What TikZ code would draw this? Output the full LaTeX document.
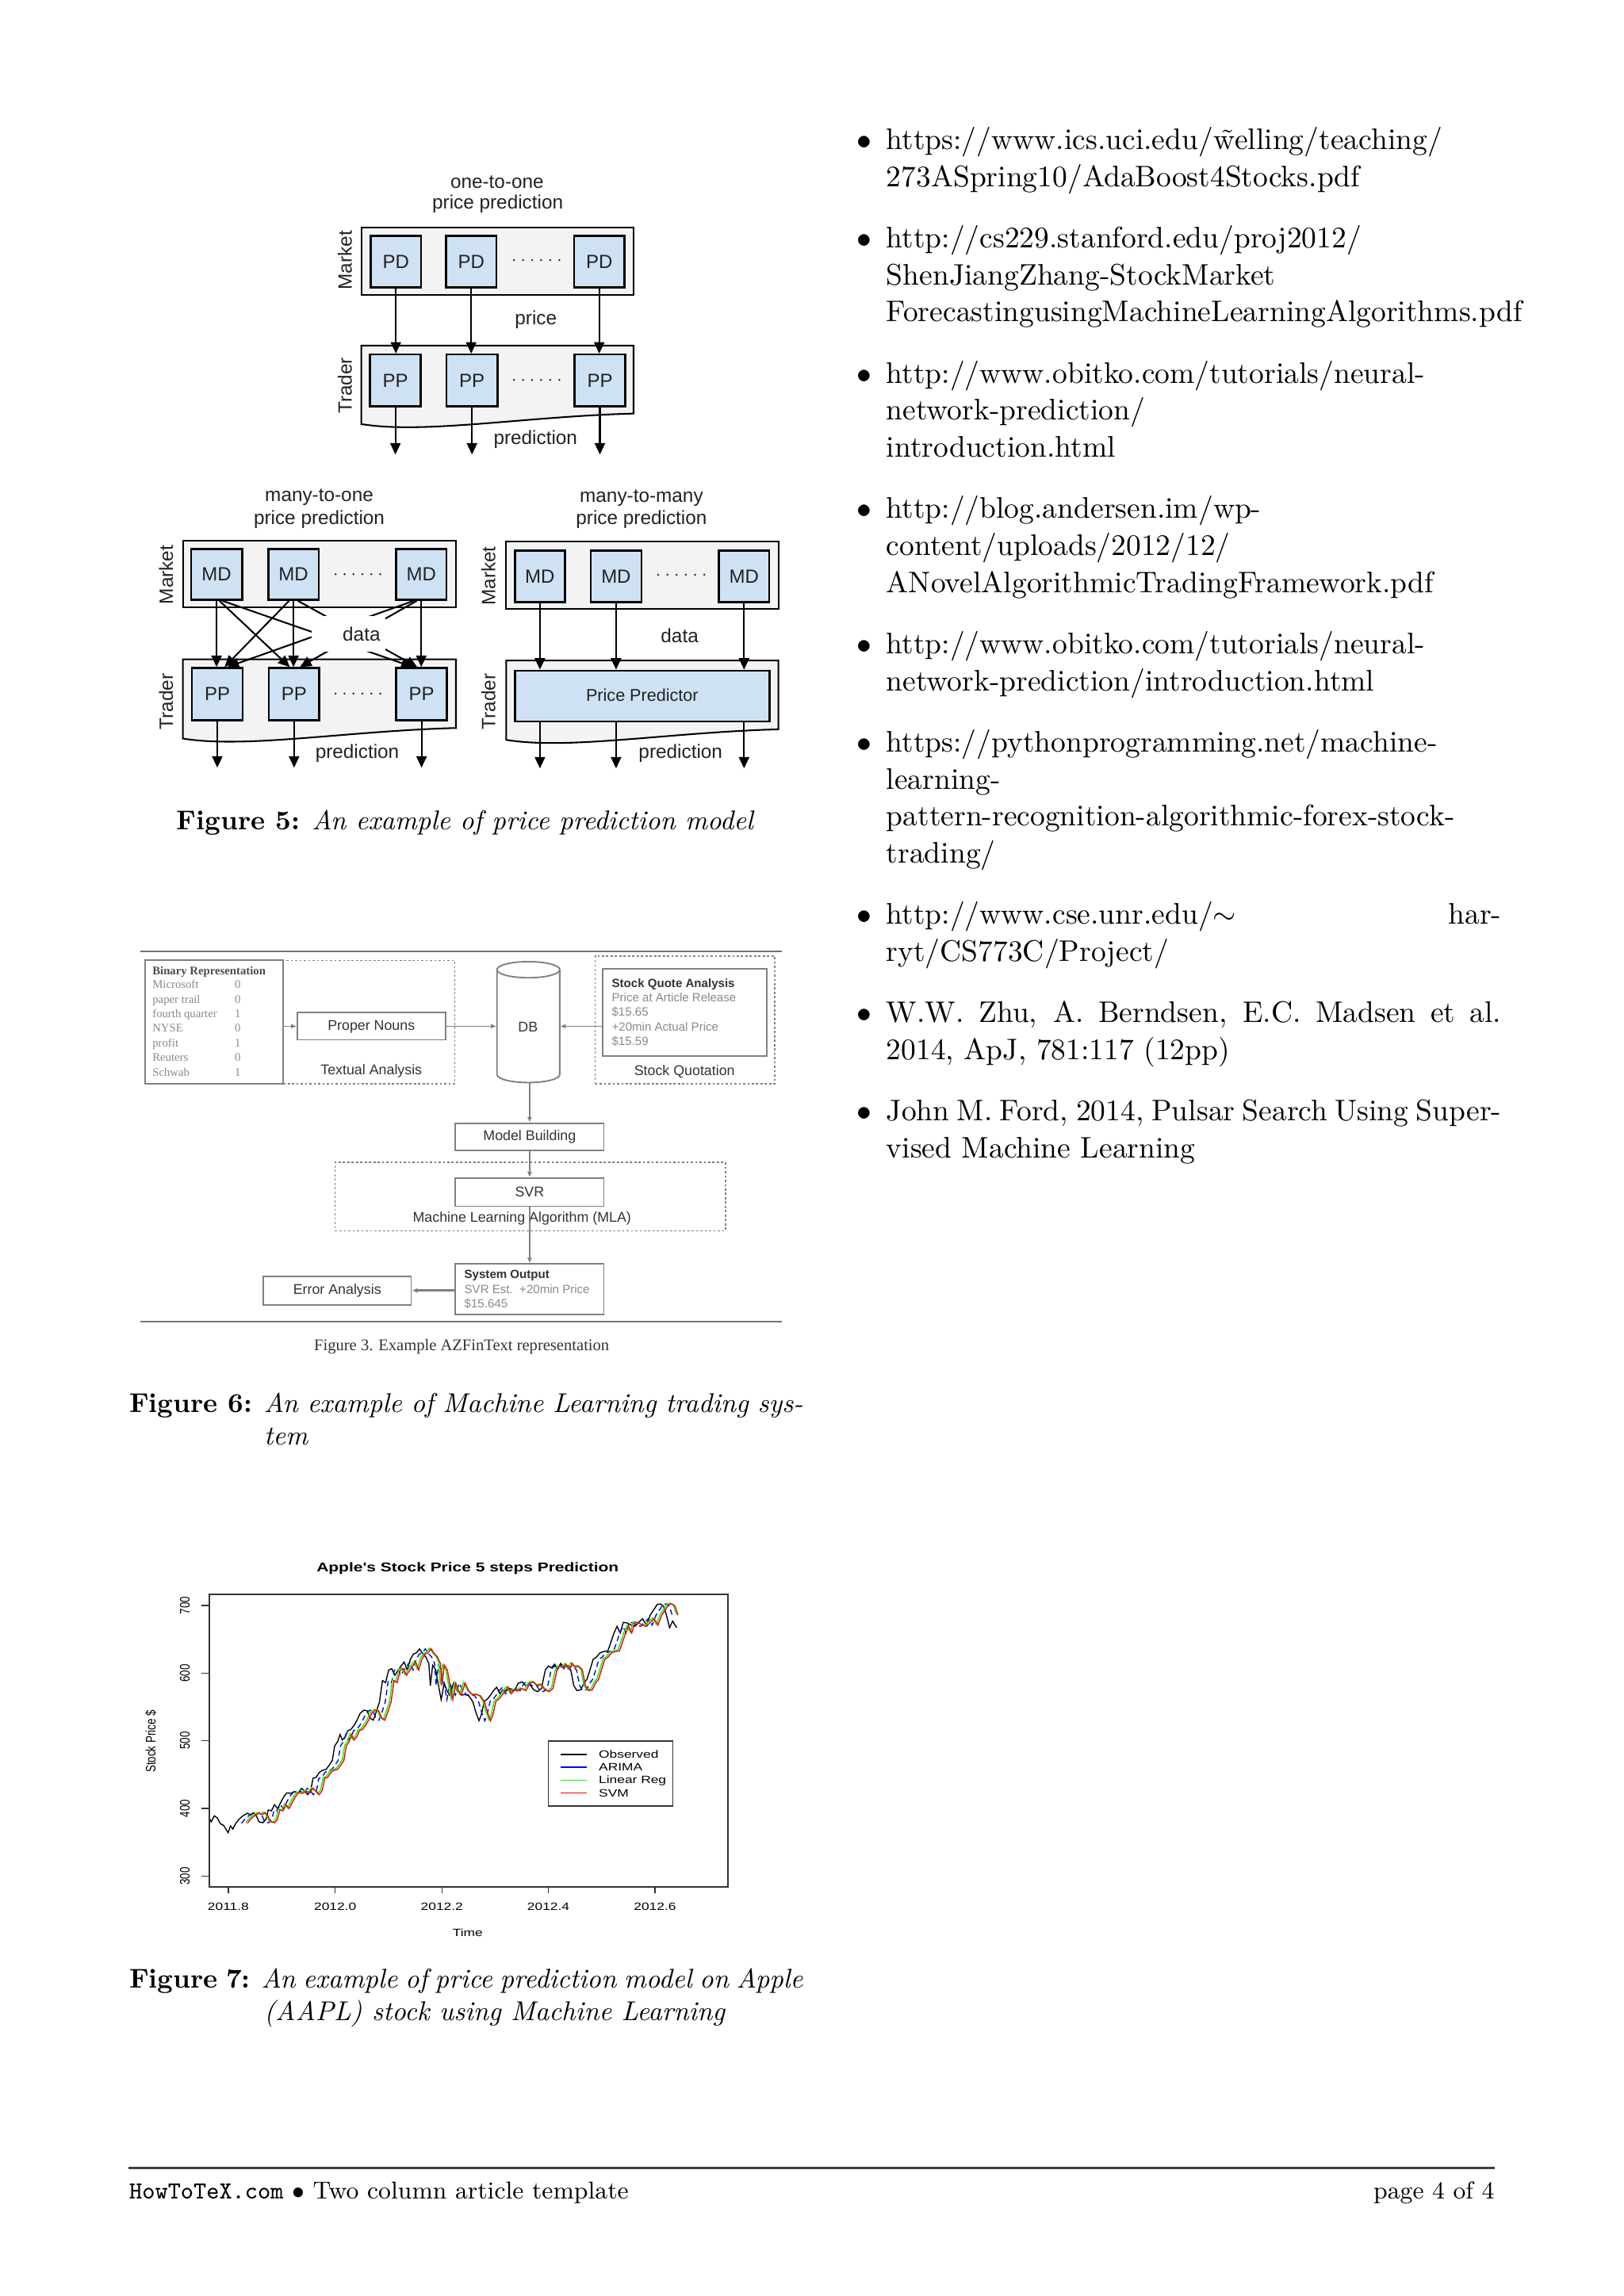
\documentclass[tikz,border=0pt]{standalone}
\usepackage{fontspec}
\usepackage{graphicx}
\newfontfamily\dsans{Liberation Sans}
\newfontfamily\dserif{Liberation Serif}
\usetikzlibrary{arrows.meta,fit,calc}
\definecolor{boxblue}{HTML}{CFE2F3}
\definecolor{panelgray}{HTML}{F3F3F3}
\definecolor{figink}{HTML}{222222}
\definecolor{azline}{HTML}{808080}
\definecolor{azink}{HTML}{333333}
\definecolor{azsoft}{HTML}{8A8A8A}
\definecolor{rgreen}{HTML}{00FF00}
\newcommand{\obshead}{(193,1030) -- (198,1045) -- (206,1022) -- (214,1030) -- (222,1052) -- (230,1058) -- (236,1072) -- (242,1086) -- (248,1060) -- (254,1072)}
\newcommand{\predline}{(262,1050) -- (270,1035) -- (280,1022) -- (292,1012) -- (300,1018) -- (308,1010) -- (316,1025) -- (322,1045) -- (332,1048) -- (340,1035) -- (346,1000) -- (354,1003) -- (362,980) -- (370,995) -- (378,972) -- (386,950) -- (394,935) -- (404,937) -- (414,930) -- (424,935) -- (432,918) -- (440,928) -- (448,942) -- (456,925) -- (462,880) -- (470,876) -- (478,858) -- (486,850) -- (496,846) -- (504,830) -- (512,812) -- (518,758) -- (526,740) -- (532,714) -- (538,735) -- (546,722) -- (552,700) -- (560,695) -- (568,680) -- (576,660) -- (584,634) -- (594,622) -- (602,624) -- (610,652) -- (618,660) -- (626,628) -- (634,592) -- (642,510) -- (650,518) -- (658,470) -- (666,465) -- (674,490) -- (682,472) -- (690,455) -- (698,440) -- (706,470) -- (714,430) -- (722,410) -- (730,405) -- (738,390) -- (746,408) -- (754,420) -- (762,445) -- (766,530) -- (772,452) -- (780,470) -- (786,520) -- (794,582) -- (802,520) -- (808,545) -- (816,565) -- (826,520) -- (836,550) -- (846,565) -- (856,563) -- (866,568) -- (876,590) -- (884,630) -- (892,662) -- (898,640) -- (906,588) -- (914,580) -- (922,565) -- (930,548) -- (938,535) -- (946,560) -- (954,545) -- (962,550) -- (972,540) -- (984,548) -- (994,520) -- (1004,515) -- (1014,530) -- (1024,525) -- (1034,545) -- (1044,552) -- (1054,540) -- (1064,470) -- (1072,455) -- (1080,462) -- (1088,448) -- (1096,468) -- (1104,445) -- (1112,460) -- (1120,455) -- (1130,470) -- (1138,530) -- (1146,548) -- (1156,545) -- (1164,520) -- (1172,505) -- (1180,468) -- (1188,430) -- (1196,422) -- (1206,405) -- (1216,400) -- (1226,398) -- (1234,365) -- (1242,330) -- (1250,305) -- (1258,330) -- (1266,290) -- (1276,292) -- (1286,300) -- (1296,305) -- (1306,290) -- (1316,276) -- (1326,300) -- (1336,262) -- (1346,240) -- (1354,222) -- (1362,220) -- (1370,228) -- (1378,262)}
\newcommand{\obstail}{(1386,310) -- (1394,285) -- (1400,300) -- (1405,310)}
\tikzset{
  fbox/.style={draw=black, line width=0.75pt, fill=boxblue, inner sep=0pt},
  ftxt/.style={font=\dsans\fontsize{7}{8}\selectfont, text=figink, inner sep=0pt},
  fpanel/.style={draw=black, line width=0.6pt, fill=panelgray, inner sep=0pt},
  flab/.style={font=\dsans\fontsize{7.1}{8.5}\selectfont, text=figink, inner sep=0pt},
  farr/.style={line width=0.6pt, draw=black, -{Triangle[length=4.2pt,width=3.8pt]}},
  fdot/.style={fill=figink, draw=none},
  azbox/.style={draw=azline, line width=0.55pt, inner sep=0pt, fill=white},
  azdash/.style={draw=azline, line width=0.45pt, dash pattern=on 0.8pt off 0.8pt, inner sep=0pt},
  azlab/.style={font=\dsans\fontsize{5.2}{6}\selectfont, text=azink, inner sep=0pt},
  azsm/.style={font=\dsans\fontsize{4.4}{5}\selectfont, text=azsoft, inner sep=0pt, anchor=base west},
  azsmb/.style={font=\dsans\bfseries\fontsize{4.4}{5}\selectfont, text=azink, inner sep=0pt, anchor=base west},
  azser/.style={font=\dserif\fontsize{4.3}{5}\selectfont, text=azsoft, inner sep=0pt, anchor=base west},
  azarr/.style={draw=azline, line width=0.5pt, -{Latex[length=2pt,width=1.8pt]}},
  rlab/.style={font=\dsans\fontsize{3.9}{4.7}\selectfont, inner sep=0pt},
  bodytext/.style={font=\fontsize{10.95}{13.6}\selectfont, inner sep=0pt, anchor=base west},
  figcap/.style={font=\fontsize{10}{12}\selectfont, inner sep=0pt, anchor=base west},
  foottext/.style={font=\fontsize{9}{11}\selectfont, inner sep=0pt},
}
\begin{document}
\begin{tikzpicture}[x=0.018936cm, y=-0.018936cm]
\fill[white] (0,0) rectangle (1109,1568.4);
\useasboundingbox (0,0) rectangle (1109,1568.4);

% ================= Figure 5: one-to-one =================
\node[flab] (t1a) at (339.5,124.2) {one-to-one};
\node[flab] (t1b) at (339.9,139.5) {price prediction};
\node[fpanel, fit={(246.8,155.2) (432.7,201.6)}] (mk1) {};
\draw[fpanel] (246.8,236.1) -- (432.7,236.1) -- (432.7,282.5) .. controls (358.3,284.5) and (289.6,296.7) .. (246.8,289.7) -- cycle;
\node[fbox, fit={(253.2,161) (287.5,196.2)}] (pd1) {};
\node[fbox, fit={(304.5,161) (339.1,196.2)}] (pd2) {};
\node[fbox, fit={(392,161) (426.5,196.2)}] (pd3) {};
\node[fbox, fit={(252.7,242.2) (287.4,277.6)}] (pp1) {};
\node[fbox, fit={(305,242.2) (339.7,277.6)}] (pp2) {};
\node[fbox, fit={(392.4,242.2) (427,277.6)}] (pp3) {};
\foreach \i in {1,2,3} {
  \node[ftxt] (pd\i t) at (pd\i) {PD};
  \node[ftxt] (pp\i t) at (pp\i) {PP};
}
\foreach \k in {0,...,5} {
  \fill[fdot] (351+6.2*\k,177.7) circle[radius=0.4pt];
  \fill[fdot] (351+6.2*\k,259.5) circle[radius=0.4pt];
}
\node[flab, rotate=90] (mkl1) at (235.6,177.8) {Market};
\node[flab, rotate=90] (trl1) at (235.6,263.5) {Trader};
\node[flab] (pr1) at (366,218.4) {price};
\node[flab] (pn1) at (365.7,300) {prediction};
\foreach \i in {1,2,3} {
  \draw[farr] (pd\i.south) -- (pd\i.south |- pp\i.north);
}
\coordinate (o1) at (0,310.5);
\foreach \i in {1,2,3} {
  \draw[farr] (pp\i.south) -- (pp\i.south |- o1);
}

% ================= Figure 5: many-to-one =================
\node[flab] (t2a) at (218,339.4) {many-to-one};
\node[flab] (t2b) at (218,354.6) {price prediction};
\node[fpanel, fit={(124.9,369.1) (311.4,415.1)}] (mk2) {};
\draw[fpanel] (124.9,450.4) -- (311.4,450.4) -- (311.4,497.3) .. controls (236.8,499.3) and (167.8,511.5) .. (124.9,504.5) -- cycle;
\node[fbox, fit={(130.5,375.1) (165.3,409.7)}] (md1) {};
\node[fbox, fit={(183.2,375.1) (217.7,409.7)}] (md2) {};
\node[fbox, fit={(270.4,375.1) (305,409.7)}] (md3) {};
\node[fbox, fit={(131,456.3) (165.8,491.9)}] (pq1) {};
\node[fbox, fit={(183.6,456.3) (218.1,491.9)}] (pq2) {};
\node[fbox, fit={(270.6,456.3) (305.2,491.9)}] (pq3) {};
\foreach \i in {1,2,3} {
  \node[ftxt] (md\i t) at (md\i) {MD};
  \node[ftxt] (pq\i t) at (pq\i) {PP};
}
\foreach \k in {0,...,5} {
  \fill[fdot] (229.2+6.1*\k,392.2) circle[radius=0.4pt];
  \fill[fdot] (229.2+6.1*\k,473.8) circle[radius=0.4pt];
}
\node[flab, rotate=90] (mkl2) at (113.4,392.6) {Market};
\node[flab, rotate=90] (trl2) at (113.4,479.2) {Trader};
\foreach \i in {1,2,3} {
  \draw[farr] (md\i.south) -- (md\i.south |- pq\i.north);
}
\draw[farr] ($(md1.south)+(2,0)$) -- ($(pq2.north)+(-3,0)$);
\draw[farr] ($(md1.south)+(4,0)$) -- ($(pq3.north)+(-6,0)$);
\draw[farr] ($(md2.south)+(-3,0)$) -- ($(pq1.north)+(5,0)$);
\draw[farr] ($(md2.south)+(3,0)$) -- ($(pq3.north)+(-3,0)$);
\draw[farr] ($(md3.south)+(-5,0)$) -- ($(pq1.north)+(7,0)$);
\draw[farr] ($(md3.south)+(-3,0)$) -- ($(pq2.north)+(4,0)$);
\fill[white] (213,421) rectangle (263,445);
\node[flab] (dt2) at (246.9,433.2) {data};
\node[flab] (pn2) at (244,514.4) {prediction};
\coordinate (o2) at (0,524.4);
\foreach \i in {1,2,3} {
  \draw[farr] (pq\i.south) -- (pq\i.south |- o2);
}

% ================= Figure 5: many-to-many =================
\node[flab] (t3a) at (438.1,340.2) {many-to-many};
\node[flab] (t3b) at (438.1,355) {price prediction};
\node[fpanel, fit={(345.7,370) (531.6,416)}] (mk3) {};
\draw[fpanel] (345.7,451.2) -- (531.6,451.2) -- (531.6,498.2) .. controls (457.2,500.2) and (388.5,512.4) .. (345.7,505.4) -- cycle;
\node[fbox, fit={(351.6,376) (385.9,411.2)}] (mm1) {};
\node[fbox, fit={(403.4,376) (438.1,411.2)}] (mm2) {};
\node[fbox, fit={(491,376) (525.3,411.2)}] (mm3) {};
\foreach \i in {1,2,3} {
  \node[ftxt] (mm\i t) at (mm\i) {MD};
}
\node[fbox, fit={(351.6,458.1) (525.6,492.8)}] (pred) {};
\node[ftxt, font=\dsans\fontsize{6.3}{7.5}\selectfont] (predt) at (438.6,475.1) {Price Predictor};
\foreach \k in {0,...,5} {
  \fill[fdot] (449.5+6.3*\k,392.6) circle[radius=0.4pt];
}
\node[flab, rotate=90] (mkl3) at (333.6,393.5) {Market};
\node[flab, rotate=90] (trl3) at (333.6,479.2) {Trader};
\node[flab] (dt3) at (464.2,434.1) {data};
\node[flab] (pn3) at (464.8,514.4) {prediction};
\coordinate (o3) at (0,524.9);
\foreach \i in {1,2,3} {
  \draw[farr] (mm\i.south) -- (mm\i.south |- pred.north);
  \draw[farr] (pred.south -| mm\i.south) -- (mm\i.south |- o3);
}

\node[figcap, anchor=base] (cap5) at (318,567) {\textbf{Figure 5:} \textit{An example of price prediction model}};

% ================= Figure 6: AZFinText =================
\draw[draw=black!55, line width=0.6pt] (96,650) -- (534,650);
\node[draw=azline, line width=0.7pt, inner sep=0pt, fit={(99,656) (193.5,740.4)}] (bin) {};
\node[azdash, fit={(193.5,656) (310.5,740.4)}] (txa) {};
\node[azser, font=\dserif\bfseries\fontsize{4.3}{5}\selectfont, text=black!70] (bint) at (103.8,665.6) {Binary Representation};
\foreach \w/\v [count=\i] in {Microsoft/0, paper trail/0, fourth quarter/1, NYSE/0, profit/1, Reuters/0, Schwab/1} {
  \node[azser] (bw\i) at (103.8,665.1+10*\i) {\w};
  \node[azser] (bv\i) at (160,665.1+10*\i) {\v};
}
\node[azbox, fit={(203.1,691.7) (304.2,710.3)}] (pn) {};
\node[azlab] (pnt) at (253.6,701.4) {Proper Nouns};
\node[azlab] (txl) at (253.6,731.4) {Textual Analysis};
\filldraw[fill=white, draw=azline, line width=0.55pt] (339.4,662.4) -- (339.4,734) arc[start angle=180, end angle=0, x radius=21.45, y radius=5.5] -- (382.3,662.4);
\draw[draw=azline, line width=0.55pt, fill=white] (360.85,662.4) ellipse[x radius=21.45, y radius=5.5];
\node[inner sep=0pt, fit={(339.4,662.4) (382.3,739.5)}] (db) {};
\node[azlab] (dbt) at (360.6,701.8) {DB};
\node[azdash, fit={(406.5,653.1) (529.2,740.4)}] (sqd) {};
\node[azbox, fit={(411.5,661.9) (523.8,721.6)}] (sqa) {};
\node[azsmb] (sq1) at (417.5,674.4) {Stock Quote Analysis};
\node[azsm] (sq2) at (417.5,684.3) {Price at Article Release};
\node[azsm] (sq3) at (417.5,694.2) {\$15.65};
\node[azsm] (sq4) at (417.5,704.5) {+20min Actual Price};
\node[azsm] (sq5) at (417.5,714.1) {\$15.59};
\node[azlab] (sql) at (467.5,731.9) {Stock Quotation};
\draw[azarr] (bin.east |- pn.west) -- (pn.west);
\draw[azarr] (pn.east) -- (db.west |- pn.east);
\draw[azarr] (sqa.west |- pn.east) -- (db.east |- pn.east);

\node[azbox, fit={(311,767.2) (412.4,785.7)}] (mb) {};
\node[azlab] (mbt) at (361.7,776.8) {Model Building};
\node[azdash, fit={(228.9,793.9) (495.4,840.8)}] (mla) {};
\node[azbox, fit={(311,804.7) (412.4,824)}] (svr) {};
\node[azlab] (svrt) at (361.7,814.4) {SVR};
\node[azlab] (mlal) at (356.5,832.1) {Machine Learning Algorithm (MLA)};
\node[azbox, fit={(311,863.4) (412.4,898)}] (so) {};
\node[azsmb] (so1) at (316.8,873.5) {System Output};
\node[azsm] (so2) at (316.8,883.8) {SVR Est.\ \ +20min Price};
\node[azsm] (so3) at (316.8,893.3) {\$15.645};
\node[azbox, fit={(179.9,871.8) (280.8,891.2)}] (ea) {};
\node[azlab] (eat) at (230.3,881.6) {Error Analysis};
\draw[azarr] (mb.north |- db.south) -- (mb.north);
\draw[azarr] (mb.south) -- (svr.north);
\draw[azarr] (svr.south) -- (so.north);
\draw[azarr, line width=0.9pt] (so.west |- ea.east) -- (ea.east);
\draw[draw=black!55, line width=0.7pt] (96,902.9) -- (534,902.9);
\node[font=\dserif\fontsize{6}{7}\selectfont, text=azink, inner sep=0pt] (azcap) at (315.3,919.7) {Figure 3. Example AZFinText representation};

\node[figcap] (cap6a) at (88,965) {\makebox[8.711cm][s]{\textbf{Figure 6:} \textit{An example of Machine Learning trading sys-}}};
\node[figcap] (cap6b) at (180,987) {\textit{tem}};

% ================= Figure 7: chart =================
\node[font=\dsans\bfseries\fontsize{4.7}{5.6}\selectfont, inner sep=0pt] (ctitle) at (319.4,1071.2) {\scalebox{1.3}[1]{Apple's Stock Price 5 steps Prediction}};
\begin{scope}[shift={(1.7433cm,-19.9946cm)}, x=0.0049946cm, y=-0.003418cm]
  \draw[black, line width=0.4pt] \obshead -- \predline -- \obstail;
  \draw[blue, line width=0.4pt, dash pattern=on 2pt off 1.3pt, xshift=0.075cm] \predline;
  \draw[rgreen, line width=0.4pt, xshift=0.13cm, yshift=0.01cm] \predline;
  \draw[red, line width=0.4pt, xshift=0.15cm] \predline;
\end{scope}
\draw[line width=0.5pt, draw=black!80] (143,1089) rectangle (497,1289);
\foreach \yy/\lab [count=\i] in {1096.7/700,1142.9/600,1189.1/500,1235.3/400,1281.6/300} {
  \draw[line width=0.4pt, draw=black!80] (143,\yy) -- (137.4,\yy);
  \node[rlab, rotate=90] (ytk\i) at (126.3,\yy) {\scalebox{1}[1.3]{\lab}};
}
\foreach \xx/\lab [count=\i] in {155.9/2011.8,228.9/2012.0,301.8/2012.2,374.5/2012.4,447.3/2012.6} {
  \draw[line width=0.4pt, draw=black!80] (\xx,1289) -- (\xx,1293.5);
  \node[rlab] (xtk\i) at (\xx,1302.3) {\scalebox{1.3}[1]{\lab}};
}
\node[rlab] (xlab) at (319.4,1320.3) {\scalebox{1.3}[1]{Time}};
\node[rlab, rotate=90] (ylab) at (103.1,1189.5) {\scalebox{1}[1.3]{Stock Price \$}};
\node[draw=black!80, line width=0.5pt, inner sep=0pt, fit={(374.5,1189.1) (459.5,1233.7)}] (leg) {};
\foreach \yy/\col/\lab [count=\i] in {1198.5/black/Observed,1207.2/blue/ARIMA,1216.2/rgreen/Linear Reg,1224.8/red/SVM} {
  \draw[\col, line width=0.4pt] (383,\yy) -- (400.7,\yy);
  \node[rlab, anchor=west] (lg\i) at (408.6,\yy) {\scalebox{1.3}[1]{\lab}};
}

\node[figcap] (cap7a) at (88,1358) {\makebox[8.711cm][s]{\textbf{Figure 7:} \textit{An example of price prediction model on Apple}}};
\node[figcap] (cap7b) at (180,1380) {\textit{(AAPL) stock using Machine Learning}};

% ================= Right column =================
\node[bodytext, anchor=base] (bu1) at (590,102) {$\bullet$};
\node[bodytext] (r1a) at (605,102) {https://www.ics.uci.edu/\~{w}elling/teaching/};
\node[bodytext] (r1b) at (605,127.3) {273ASpring10/AdaBoost4Stocks.pdf};
\node[bodytext, anchor=base] (bu2) at (590,169.15) {$\bullet$};
\node[bodytext] (r2a) at (605,169.15) {http://cs229.stanford.edu/proj2012/};
\node[bodytext] (r2b) at (605,194.45) {ShenJiangZhang-StockMarket};
\node[bodytext] (r2c) at (605,219.75) {ForecastingusingMachineLearningAlgorithms.pdf};
\node[bodytext, anchor=base] (bu3) at (590,261.6) {$\bullet$};
\node[bodytext] (r3a) at (605,261.6) {http://www.obitko.com/tutorials/neural-};
\node[bodytext] (r3b) at (605,286.9) {network-prediction/};
\node[bodytext] (r3c) at (605,312.2) {introduction.html};
\node[bodytext, anchor=base] (bu4) at (590,354.05) {$\bullet$};
\node[bodytext] (r4a) at (605,354.05) {http://blog.andersen.im/wp-};
\node[bodytext] (r4b) at (605,379.35) {content/uploads/2012/12/};
\node[bodytext] (r4c) at (605,404.65) {ANovelAlgorithmicTradingFramework.pdf};
\node[bodytext, anchor=base] (bu5) at (590,446.5) {$\bullet$};
\node[bodytext] (r5a) at (605,446.5) {http://www.obitko.com/tutorials/neural-};
\node[bodytext] (r5b) at (605,471.8) {network-prediction/introduction.html};
\node[bodytext, anchor=base] (bu6) at (590,513.65) {$\bullet$};
\node[bodytext] (r6a) at (605,513.65) {https://pythonprogramming.net/machine-};
\node[bodytext] (r6b) at (605,538.95) {learning-};
\node[bodytext] (r6c) at (605,564.25) {pattern-recognition-algorithmic-forex-stock-};
\node[bodytext] (r6d) at (605,589.55) {trading/};
\node[bodytext, anchor=base] (bu7) at (590,631.4) {$\bullet$};
\node[bodytext] (r7a) at (605,631.4) {\makebox[7.953cm][l]{http://www.cse.unr.edu/$\sim$\hfill har-}};
\node[bodytext] (r7b) at (605,656.7) {ryt/CS773C/Project/};
\node[bodytext, anchor=base] (bu8) at (590,698.55) {$\bullet$};
\node[bodytext] (r8a) at (605,698.55) {\makebox[7.953cm][s]{W.W. Zhu, A. Berndsen, E.C. Madsen et al.}};
\node[bodytext] (r8b) at (605,723.85) {2014, ApJ, 781:117 (12pp)};
\node[bodytext, anchor=base] (bu9) at (590,765.7) {$\bullet$};
\node[bodytext] (r9a) at (605,765.7) {\makebox[7.953cm][s]{John M. Ford, 2014, Pulsar Search Using Super-}};
\node[bodytext] (r9b) at (605,791) {vised Machine Learning};

% ================= Footer =================
\draw[line width=0.8pt, draw=black!75] (88,1481) -- (1021,1481);
\node[foottext, anchor=base west] (fl) at (88,1502) {\texttt{HowToTeX.com} $\bullet$ Two column article template};
\node[foottext, anchor=base east] (fr) at (1021,1502) {page 4 of 4};
\end{tikzpicture}
\end{document}
